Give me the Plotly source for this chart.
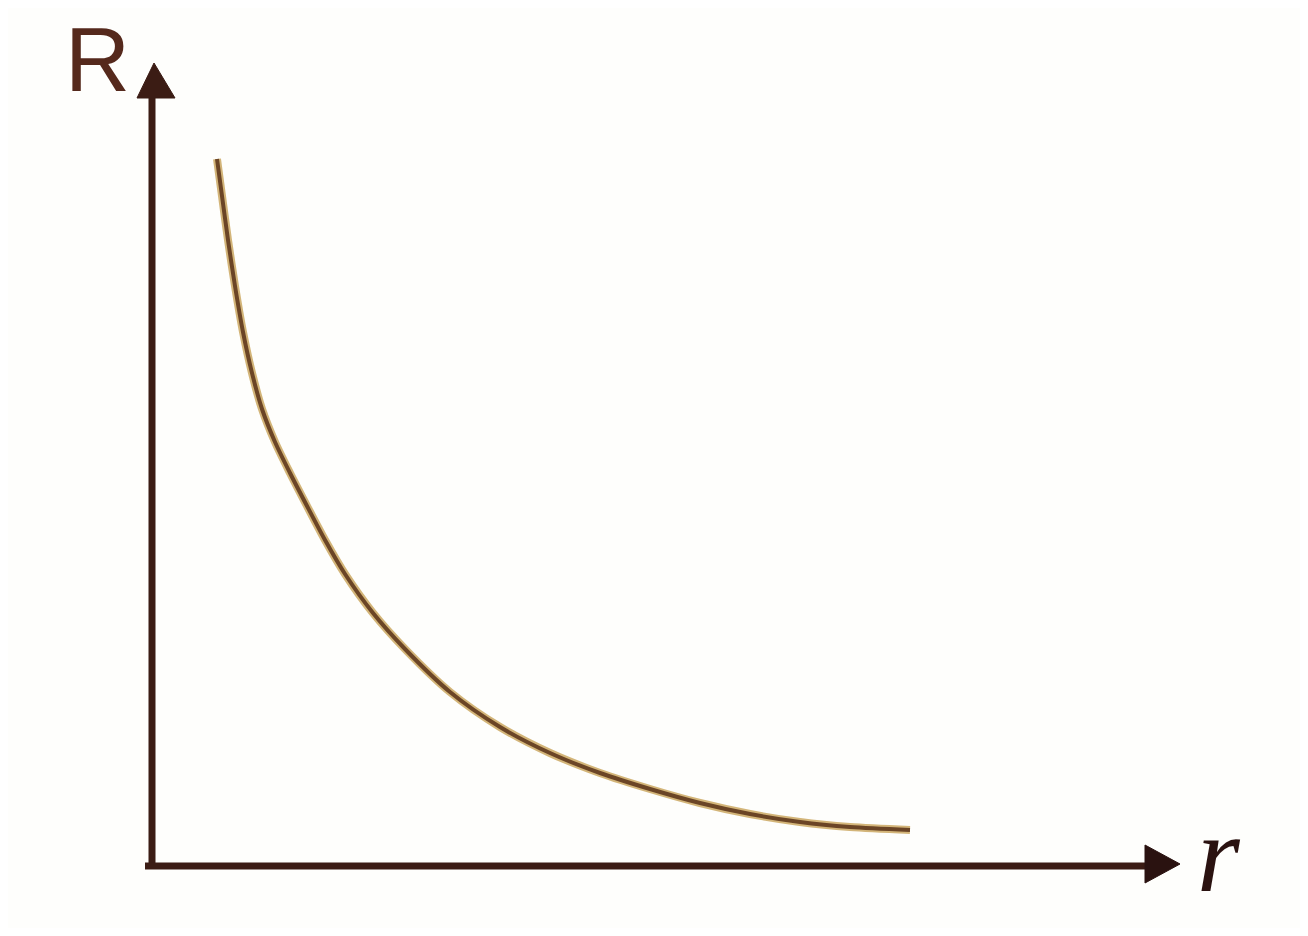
import plotly.graph_objects as go

# Curve R(r) (arbitrary units)
r_values = [0.67, 0.72, 0.78, 0.85, 0.93, 1.02, 1.12, 1.25, 1.40, 1.57, 1.75, 1.95,
            2.23, 2.55, 3.00, 3.50, 4.00, 4.50, 5.00, 5.50, 6.00, 6.50, 7.00, 7.60]
R_values = [7.07, 6.70, 6.26, 5.80, 5.34, 4.93, 4.57, 4.24, 3.93, 3.60, 3.26, 2.92,
            2.53, 2.17, 1.74, 1.39, 1.13, 0.93, 0.77, 0.63, 0.52, 0.44, 0.39, 0.36]

x_label = "r"
y_label = "R"

axis_color = "#3b1c14"
curve_core = "#6b4526"
curve_halo = "rgba(196,156,78,0.75)"

fig = go.Figure()
fig.add_trace(go.Scatter(x=r_values, y=R_values, mode="lines",
                         line=dict(color=curve_halo, width=8, shape="spline", smoothing=0.8),
                         hoverinfo="skip", showlegend=False))
fig.add_trace(go.Scatter(x=r_values, y=R_values, mode="lines",
                         line=dict(color=curve_core, width=4, shape="spline", smoothing=0.8),
                         showlegend=False))

shapes = [
    # vertical axis
    dict(type="line", x0=0.02, y0=0.0, x1=0.02, y1=7.7, xref="x", yref="y",
         line=dict(color=axis_color, width=7)),
    # horizontal axis
    dict(type="line", x0=-0.05, y0=0.0, x1=10.0, y1=0.0, xref="x", yref="y",
         line=dict(color=axis_color, width=7)),
    # arrowhead up
    dict(type="path", path="M -0.13,7.68 L 0.25,7.68 L 0.04,8.03 Z", xref="x", yref="y",
         fillcolor=axis_color, line=dict(color=axis_color, width=1)),
    # arrowhead right
    dict(type="path", path="M 9.95,0.21 L 9.95,-0.17 L 10.30,0.02 Z", xref="x", yref="y",
         fillcolor="#2a1210", line=dict(color="#2a1210", width=1)),
]

annotations = [
    dict(x=-0.53, y=8.09, xref="x", yref="y", text=y_label, showarrow=False,
         yshift=-3, borderpad=0,
         font=dict(family="Liberation Sans, Arial, sans-serif", size=90, color="#55291c")),
    dict(x=10.69, y=0.12, xref="x", yref="y", text="<i>" + x_label + "</i>", showarrow=False,
         font=dict(family="Liberation Serif, Times New Roman, serif", size=110, color="#2a1210")),
]

fig.update_layout(
    width=1292, height=920,
    margin=dict(l=0, r=0, t=0, b=0),
    paper_bgcolor="#fefefc", plot_bgcolor="#fefefc",
    xaxis=dict(range=[-1.42, 11.50], visible=False, fixedrange=True),
    yaxis=dict(range=[-0.62, 8.58], visible=False, fixedrange=True),
    shapes=shapes, annotations=annotations,
)

fig.write_html("out.html")
